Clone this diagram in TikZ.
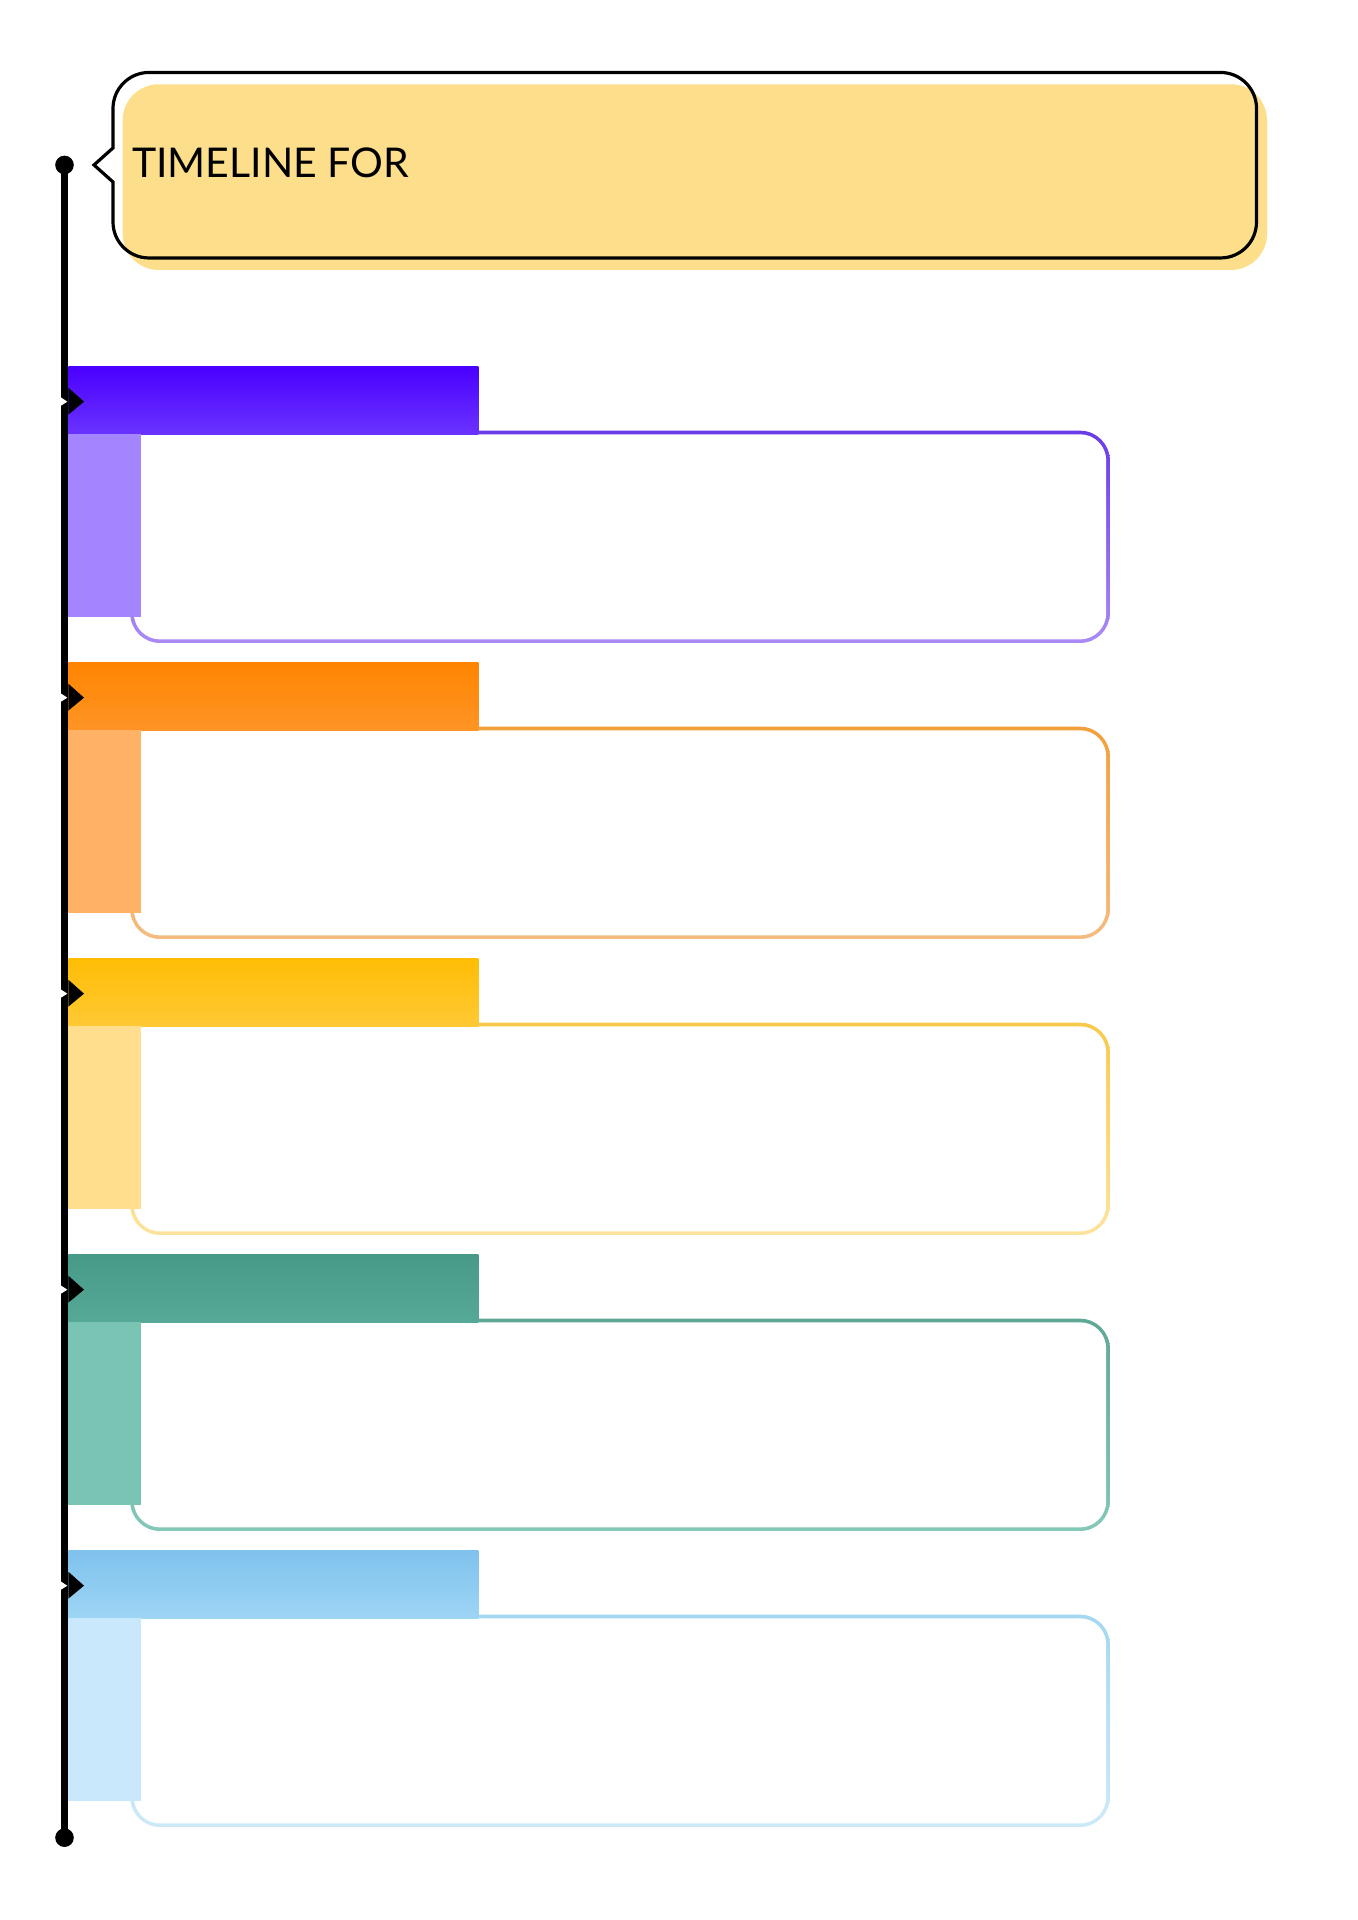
\documentclass[tikz,border=0pt]{standalone}
\usepackage{fontspec}
\setmainfont{Lato}
\definecolor{calloutfill}{HTML}{FDDF8B}
% purple
\definecolor{hAa}{HTML}{4A00FF}\definecolor{hAb}{HTML}{6A33FF}
\definecolor{lA}{HTML}{A585FF}
\definecolor{rAa}{HTML}{6A3BE8}\definecolor{rAb}{HTML}{A98AF6}
% orange
\definecolor{hBa}{HTML}{FF8500}\definecolor{hBb}{HTML}{FF9426}
\definecolor{lB}{HTML}{FFB265}
\definecolor{rBa}{HTML}{F2A03C}\definecolor{rBb}{HTML}{F5BB7F}
% yellow
\definecolor{hCa}{HTML}{FFBD05}\definecolor{hCb}{HTML}{FFC935}
\definecolor{lC}{HTML}{FFDF8D}
\definecolor{rCa}{HTML}{F9C94A}\definecolor{rCb}{HTML}{FCE39C}
% green
\definecolor{hDa}{HTML}{479A87}\definecolor{hDb}{HTML}{56A997}
\definecolor{lD}{HTML}{7AC4B3}
\definecolor{rDa}{HTML}{5FA896}\definecolor{rDb}{HTML}{83C8B8}
% blue
\definecolor{hEa}{HTML}{7FC2EE}\definecolor{hEb}{HTML}{9ED5F5}
\definecolor{lE}{HTML}{C9E8FC}
\definecolor{rEa}{HTML}{A4D7F2}\definecolor{rEb}{HTML}{CDE9F8}
\tikzset{
  spine/.style={line width=3.9pt, black},
  calloutline/.style={line width=1.6pt, black, line join=miter},
  titletext/.style={anchor=base west, inner sep=0pt, font=\fontsize{20.5pt}{24pt}\selectfont},
}
\begin{document}
\begin{tikzpicture}[x=0.5pt,y=0.5pt]
\useasboundingbox (0,0) rectangle (1358,1920);
\fill[white] (0,0) rectangle (1358,1920);
% callout
\fill[calloutfill, rounded corners=18pt] (122.7,1650) rectangle (1267,1835.7);
\draw[calloutline] (113,1738) -- (94,1755) -- (113,1772) -- (113,1811.5) arc(180:90:36) -- (1220.5,1847.5) arc(90:0:36) -- (1256.5,1698) arc(0:-90:36) -- (149,1662) arc(270:180:36) -- cycle;
\node[titletext] (title) at (131.7,1742.3) {TIMELINE FOR};
% spine
\coordinate (top) at (64.5,1755);
\coordinate (bot) at (64.5,82.3);
\draw[spine] (top) -- (bot);
% sections
\foreach \i/\s in {0/A,1/B,2/C,3/D,4/E}{
  \pgfmathsetmacro\T{1553.3-296*\i}
  \shade[top color=r\s a, bottom color=r\s b, rounded corners=14.9pt] (130.2,{\T-276.3}) rectangle (1109.8,{\T-64});
  \fill[white, rounded corners=13.1pt] (133.8,{\T-272.7}) rectangle (1106.2,{\T-67.6});
  \fill[white] (133.8,{\T-120}) rectangle (200,{\T-67.6});
  \shade[top color=h\s a, bottom color=h\s b] (68.3,{\T-67.6}) rectangle (478.3,\T);
  \fill[l\s] (68.3,{\T-250}) rectangle (141,{\T-67.6});
  \pgfmathsetmacro\M{\T-35}
  \fill[black] (68.3,{\M+14}) -- (84,\M) -- (68.3,{\M-13}) -- cycle;
  \fill[white] (59,{\M+5.5}) -- (67.3,\M) -- (59,{\M-5.3}) -- cycle;
}
\fill[black] (top) circle (9.3);
\fill[black] (bot) circle (9.3);
\end{tikzpicture}
\end{document}
